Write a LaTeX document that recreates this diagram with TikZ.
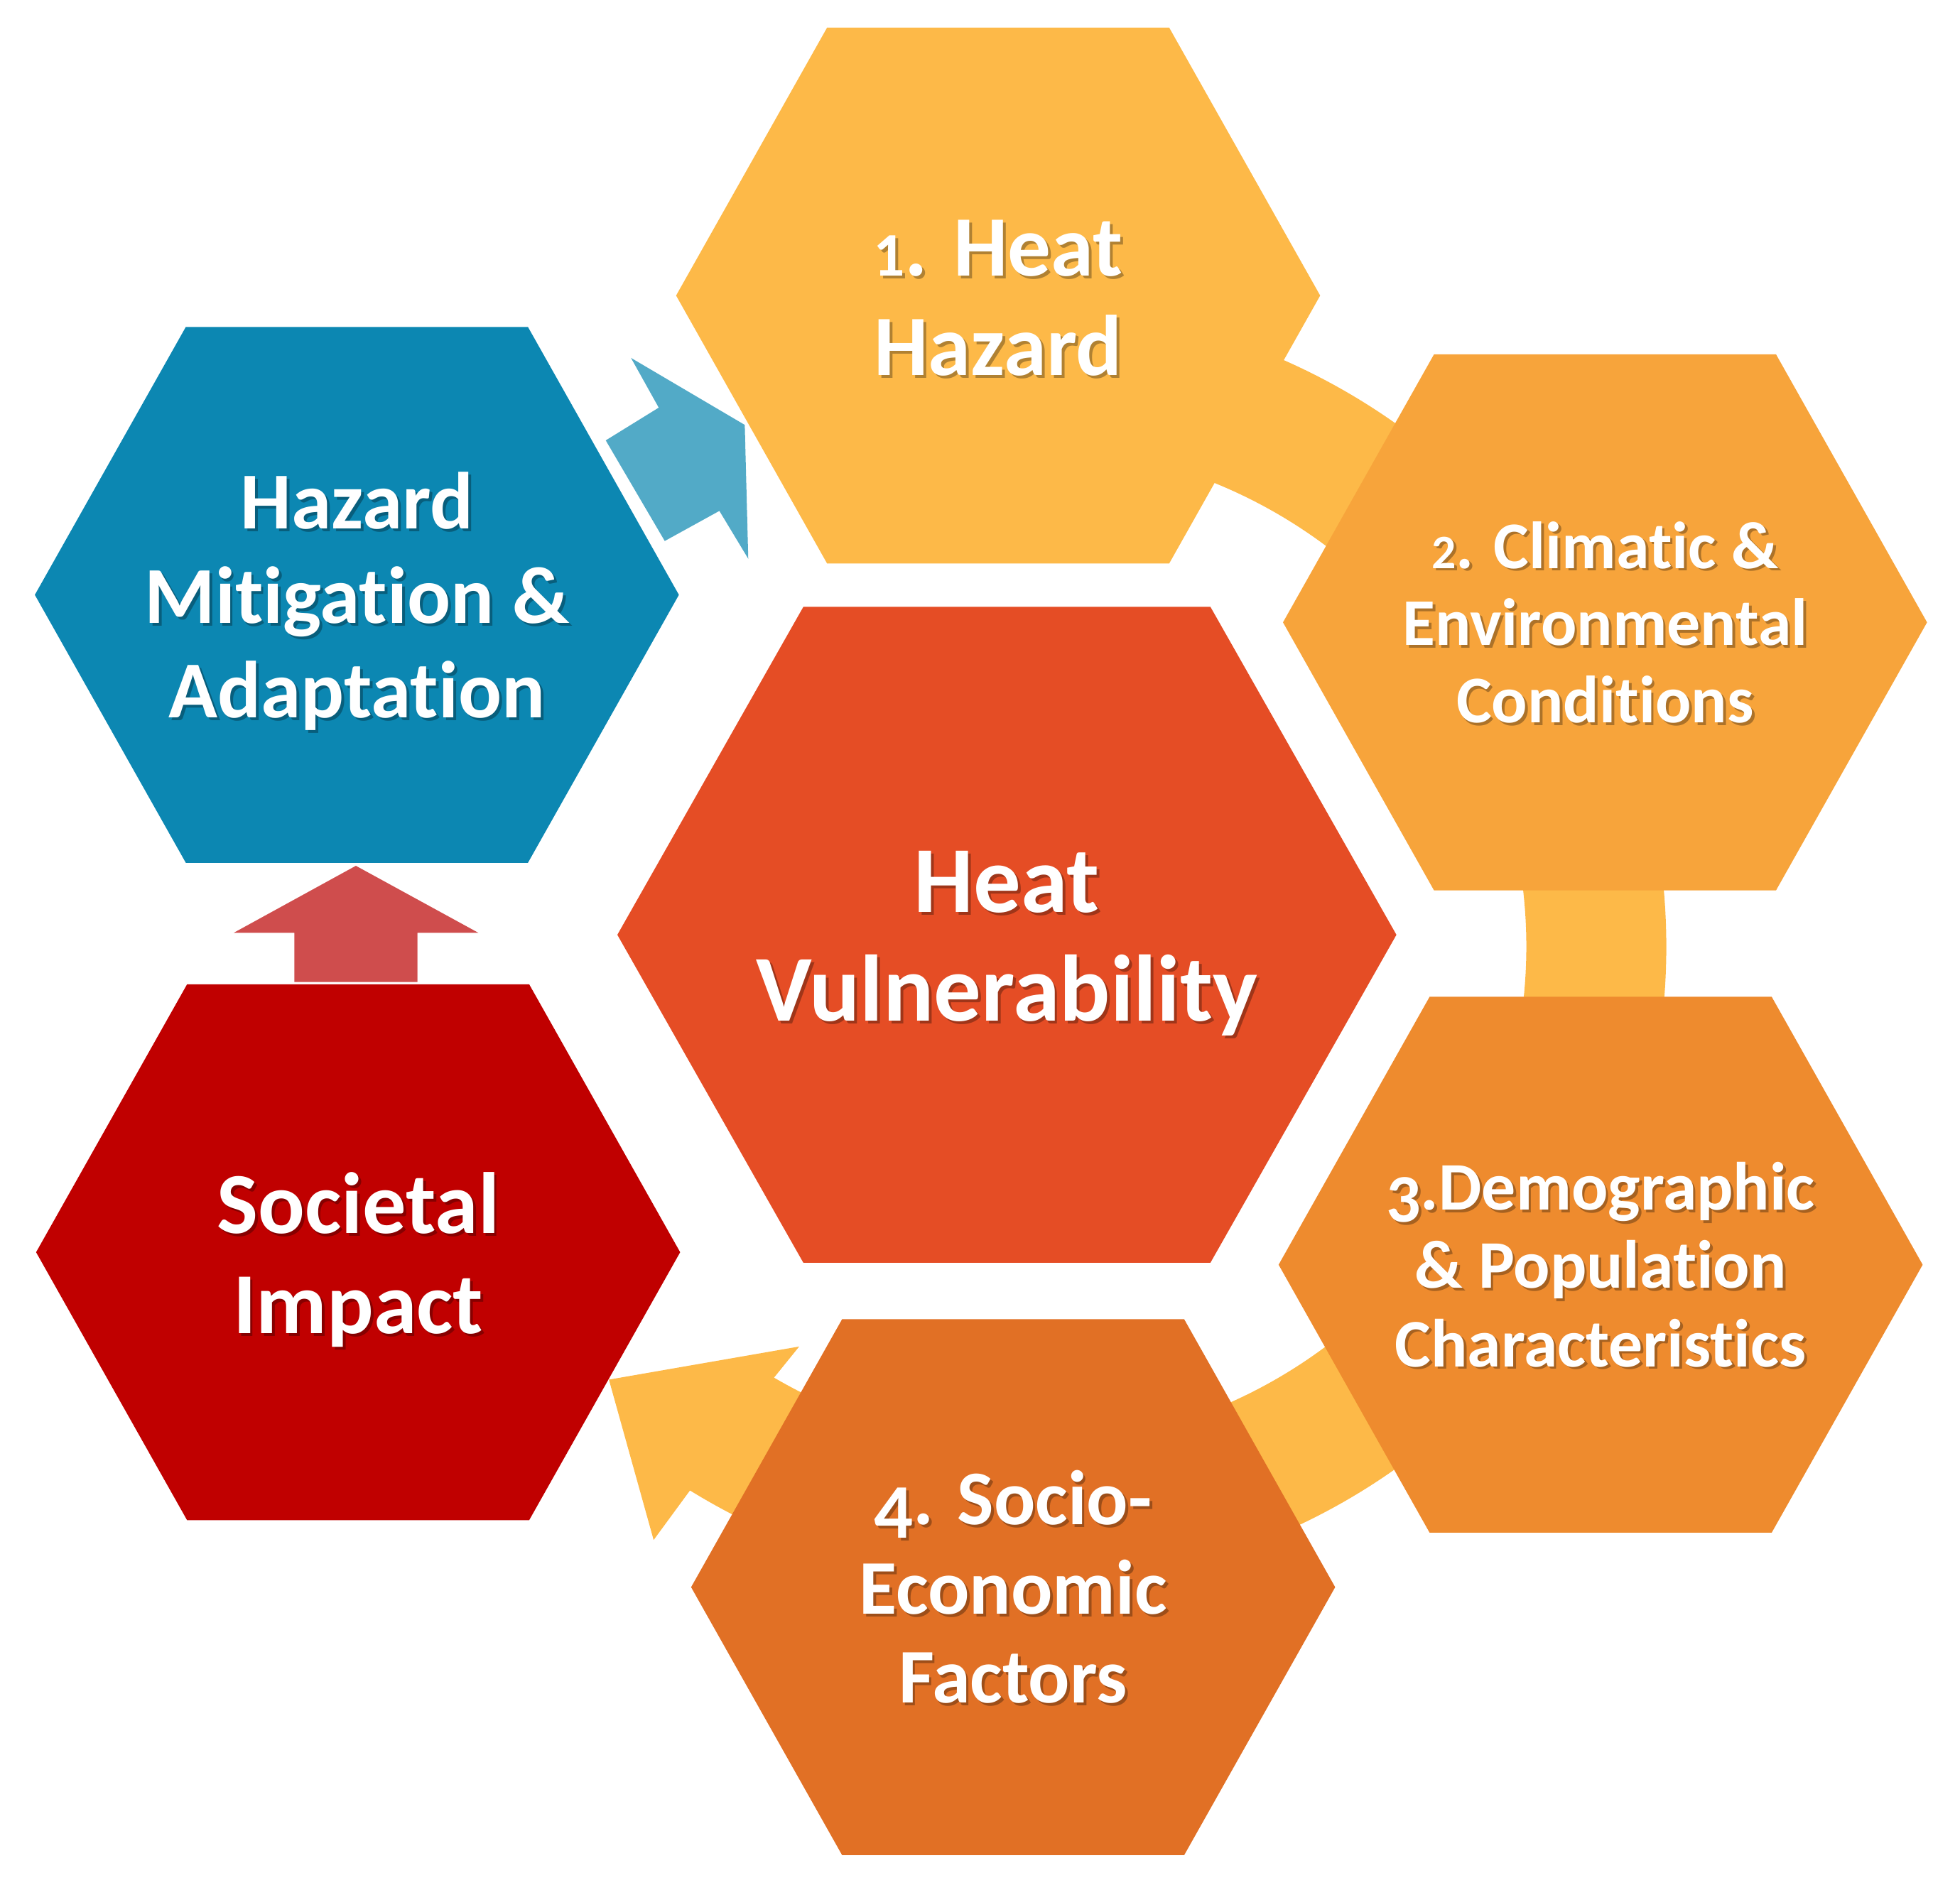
\documentclass[tikz,border=0pt]{standalone}
\usepackage{fontspec}
\setmainfont{Carlito}[Ligatures={CommonOff,ContextualOff}]
\usetikzlibrary{calc}

\definecolor{hazardc}{HTML}{FDB948}
\definecolor{climatec}{HTML}{F7A43B}
\definecolor{democ}{HTML}{EE8B2E}
\definecolor{socioc}{HTML}{E17025}
\definecolor{vulnc}{HTML}{E54D25}
\definecolor{impactc}{HTML}{C00000}
\definecolor{mitic}{HTML}{0C87B2}
\definecolor{bluearr}{HTML}{52AAC7}
\definecolor{redarr}{HTML}{CF4D4D}

\tikzset{
  hex/.style={draw=white, line width=0.8pt},
  celltxt/.style={text=white, align=center, inner sep=0pt},
  celltxtsh/.style={text=black, opacity=0.3, align=center, inner sep=0pt},
}

% hexagon round a centre: half width, half top edge, half height
\newcommand{\hexpath}[4]{($(#1)+(-#2,0)$) -- ($(#1)+(-#3,#4)$) -- ($(#1)+(#3,#4)$)
  -- ($(#1)+(#2,0)$) -- ($(#1)+(#3,-#4)$) -- ($(#1)+(-#3,-#4)$) -- cycle}
% white label with a soft shadow: centre, size, leading, text
\newcommand{\celltext}[4]{%
  \node[celltxtsh, font=\bfseries\fontsize{#2}{#3}\selectfont] at ($(#1)+(0.022,-0.022)$) {#4};
  \node[celltxt, font=\bfseries\fontsize{#2}{#3}\selectfont] (#1-t) at (#1) {#4};}
% old style figures: small ones, and ones that hang below the line
\newcommand{\nm}[1]{\scalebox{0.72}{#1}}
\newcommand{\nmd}[1]{\raisebox{-0.17em}{#1}}

\begin{document}
\begin{tikzpicture}
  \useasboundingbox (0,0) rectangle (15.68,-15.08);

  \coordinate (hazard) at (7.985,-2.365);
  \coordinate (climate) at (12.84,-4.98);
  \coordinate (demo) at (12.805,-10.12);
  \coordinate (socio) at (8.105,-12.70);
  \coordinate (impact) at (2.865,-10.02);
  \coordinate (miti) at (2.855,-4.76);
  \coordinate (vuln) at (8.055,-7.48);
  \coordinate (ring) at (8.21,-7.57);

  % circular arrow behind the cells
  \fill[hazardc] ($(ring)+(95:5.12)$) arc[start angle=95, end angle=-121.7, radius=5.12]
    -- ($(ring)+(-122.1:5.61)$) -- ($(ring)+(-133.9:4.815)$) -- ($(ring)+(-119.55:3.684)$)
    -- ($(ring)+(-120.3:4.0)$) arc[start angle=-120.3, end angle=95, radius=4.0] -- cycle;

  % straight arrows
  \fill[bluearr] (5.048,-2.864) -- (5.958,-3.400) -- (5.986,-4.471) -- (5.755,-4.088)
    -- (5.318,-4.329) -- (4.846,-3.524) -- (5.270,-3.262) -- cycle;
  \fill[redarr] (2.847,-6.928) -- (3.827,-7.464) -- (3.34,-7.464) -- (3.34,-7.858)
    -- (2.355,-7.858) -- (2.355,-7.464) -- (1.87,-7.464) -- cycle;

  \fill[hex, hazardc] \hexpath{hazard}{2.56}{1.36}{2.13};
  \fill[hex, climatec] \hexpath{climate}{2.56}{1.36}{2.13};
  \fill[hex, democ] \hexpath{demo}{2.56}{1.36}{2.13};
  \fill[hex, socioc] \hexpath{socio}{2.56}{1.36}{2.13};
  \fill[hex, impactc] \hexpath{impact}{2.56}{1.36}{2.13};
  \fill[hex, mitic] \hexpath{miti}{2.56}{1.36}{2.13};
  \fill[hex, vulnc] \hexpath{vuln}{3.1}{1.62}{2.61};

  \coordinate (hazard-c) at ($(hazard)+(0,-0.02)$);
  \coordinate (impact-c) at ($(impact)+(0,-0.06)$);
  \coordinate (miti-c) at ($(miti)+(0,-0.05)$);
  \coordinate (vuln-c) at ($(vuln)+(0,-0.07)$);
  \celltext{hazard-c}{19.6}{22.6}{\nm{1}. Heat\\Hazard}
  \celltext{climate}{15.2}{17.6}{\nm{2}. Climatic \&\\Environmental\\Conditions}
  \celltext{demo}{15.5}{17.8}{\nmd{3}.Demographic\\\& Population\\Characteristics}
  \celltext{socio}{17.6}{20.3}{\nmd{4}. Socio-\\Economic\\Factors}
  \celltext{impact-c}{19.8}{22.8}{Societal\\Impact}
  \celltext{miti-c}{18.4}{21.5}{Hazard\\Mitigation \&\\Adaptation}
  \celltext{vuln-c}{21.5}{24.7}{Heat\\Vulnerability}
\end{tikzpicture}
\end{document}
